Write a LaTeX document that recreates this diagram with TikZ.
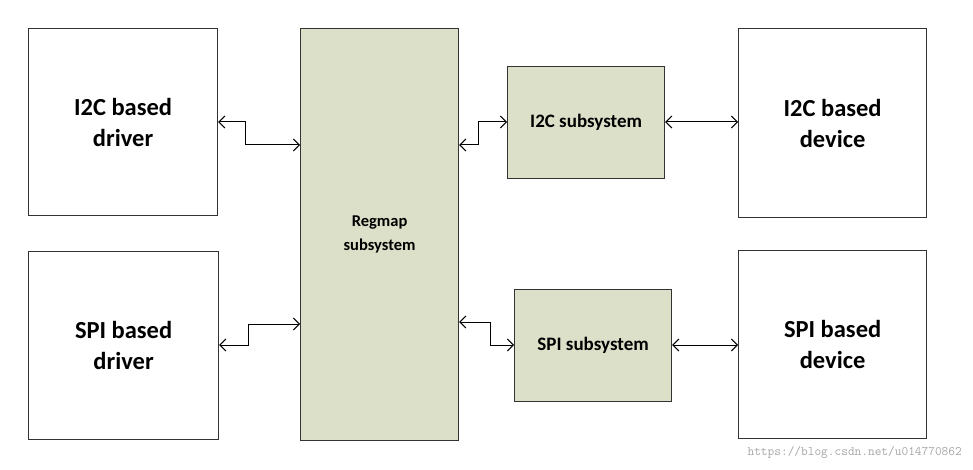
\documentclass[tikz,border=0pt]{standalone}
\usepackage{fontspec}
\setmainfont{Carlito}
\usetikzlibrary{arrows.meta}
\definecolor{boxfill}{HTML}{DDE0C8}
\begin{document}
\begin{tikzpicture}[x=1pt,y=-1pt,
  box/.style={draw=black!80,line width=1.2pt,anchor=north west,inner sep=0pt,align=center,font=\fontsize{24.5}{31}\selectfont\bfseries},
  sub/.style={box,fill=boxfill,font=\fontsize{19}{22}\selectfont\bfseries},
  conn/.style={draw,line width=1pt,{Straight Barb[length=6pt,width=12pt]}-{Straight Barb[length=6pt,width=12pt]}}]
\useasboundingbox (0,0) rectangle (973,470);
\node[box,minimum width=189,minimum height=187] (d1) at (28,28) {I2C based\\driver};
\node[box,minimum width=190,minimum height=188] (d2) at (28,251) {SPI based\\driver};
\node[sub,minimum width=158,minimum height=412,font=\fontsize{16.5}{24}\selectfont\bfseries] (rm) at (300,28) {Regmap\\subsystem};
\node[sub,minimum width=157,minimum height=112] (is) at (507,66) {I2C subsystem};
\node[sub,minimum width=157,minimum height=112] (ss) at (514,289) {SPI subsystem};
\node[box,minimum width=188,minimum height=189] (v1) at (738,28) {I2C based\\device};
\node[box,minimum width=188,minimum height=188] (v2) at (738,250) {SPI based\\device};
\coordinate (a1) at (d1.east |- 0,122); \coordinate (b1) at (rm.west |- 0,145);
\draw[conn] (a1) -- (245,122) -- (245,145) -- (b1);
\coordinate (a2) at (d2.east |- 0,345); \coordinate (b2) at (rm.west |- 0,324);
\draw[conn] (a2) -- (248,345) -- (248,324) -- (b2);
\coordinate (a3) at (rm.east |- 0,145); \coordinate (b3) at (is.west |- 0,122);
\draw[conn] (a3) -- (478,145) -- (478,122) -- (b3);
\coordinate (a4) at (rm.east |- 0,322); \coordinate (b4) at (ss.west |- 0,345);
\draw[conn] (a4) -- (490,322) -- (490,345) -- (b4);
\coordinate (a5) at (is.east |- 0,122); \coordinate (b5) at (v1.west |- 0,122);
\draw[conn] (a5) -- (b5);
\coordinate (a6) at (ss.east |- 0,345); \coordinate (b6) at (v2.west |- 0,345);
\draw[conn] (a6) -- (b6);
\node[anchor=east,text=black!35,font=\fontsize{13}{15}\selectfont\ttfamily,inner sep=0pt] (wm) at (962,452) {https://blog.csdn.net/u014770862};
\end{tikzpicture}
\end{document}
